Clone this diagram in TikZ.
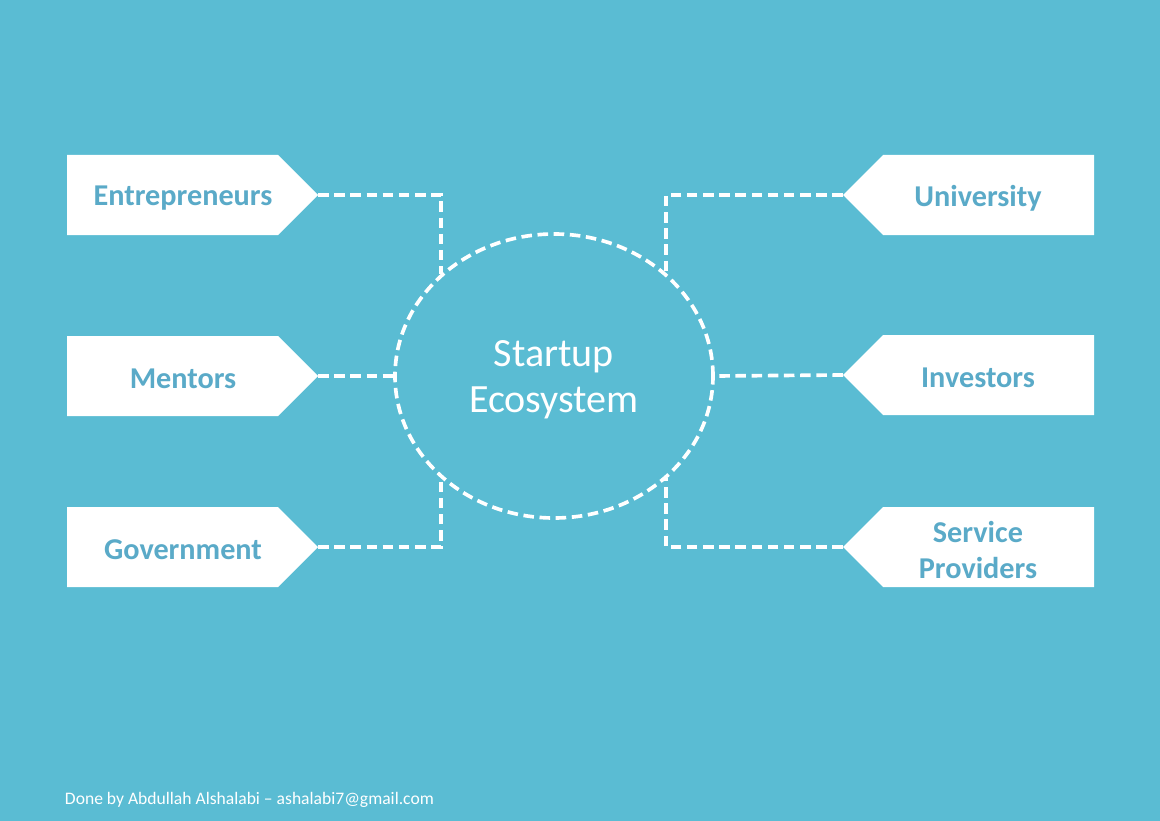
\documentclass[tikz,border=0pt]{standalone}
\usepackage{fontspec}
\setmainfont{Carlito}
\usetikzlibrary{shapes.geometric}
\definecolor{bg}{HTML}{5ABCD3}
\definecolor{lbl}{HTML}{5AAAC8}
\begin{document}
\begin{tikzpicture}[x=0.025cm,y=-0.025cm,
  conn/.style={draw=white,line width=2.6pt,dash pattern=on 7.5pt off 4pt},
  lab/.style={text=lbl,font=\fontsize{21.5}{25}\selectfont\bfseries,align=center}]
\fill[bg] (0,0) rectangle (1160,821);
\useasboundingbox (0,0) rectangle (1160,821);
% left boxes
\foreach \n/\t/\c in {ent/Entrepreneurs/195, men/Mentors/376, gov/Government/547}{
  \fill[white] (67,\c-40) -- (278,\c-40) -- (318,\c) -- (278,\c+40) -- (67,\c+40) -- cycle;
  \node[lab] (\n) at (183,\c+3) {\t};
  \coordinate (\n t) at (318,\c);
}
\foreach \n/\t/\c in {uni/University/195, inv/Investors/375, ser/{Service\\Providers}/547}{
  \fill[white] (1094,\c-40) -- (883,\c-40) -- (843,\c) -- (883,\c+40) -- (1094,\c+40) -- cycle;
  \node[lab] (\n) at (978,\c+3) {\t};
  \coordinate (\n t) at (843,\c);
}
\node[ellipse,conn,minimum width=318*0.025cm,minimum height=284*0.025cm,inner sep=0pt] (eco) at (554,376) {};
\node[text=white,align=center,font=\fontsize{28.5}{33}\selectfont] (ecot) at (554,380) {Startup\\Ecosystem};
\coordinate (e1) at (441,274);
\coordinate (e2) at (441,478);
\coordinate (e3) at (666,274);
\coordinate (e4) at (666,478);
\draw[conn] (entt) -| (e1);
\draw[conn] (ment) -- (eco.west);
\draw[conn] (govt) -| (e2);
\draw[conn] (unit) -| (e3);
\draw[conn] (invt) -- (eco.east);
\draw[conn] (sert) -| (e4);
\node[text=white,anchor=west,font=\fontsize{12.5}{14}\selectfont] (foot) at (60,800) {Done by Abdullah Alshalabi -- ashalabi7@gmail.com};
\end{tikzpicture}
\end{document}
